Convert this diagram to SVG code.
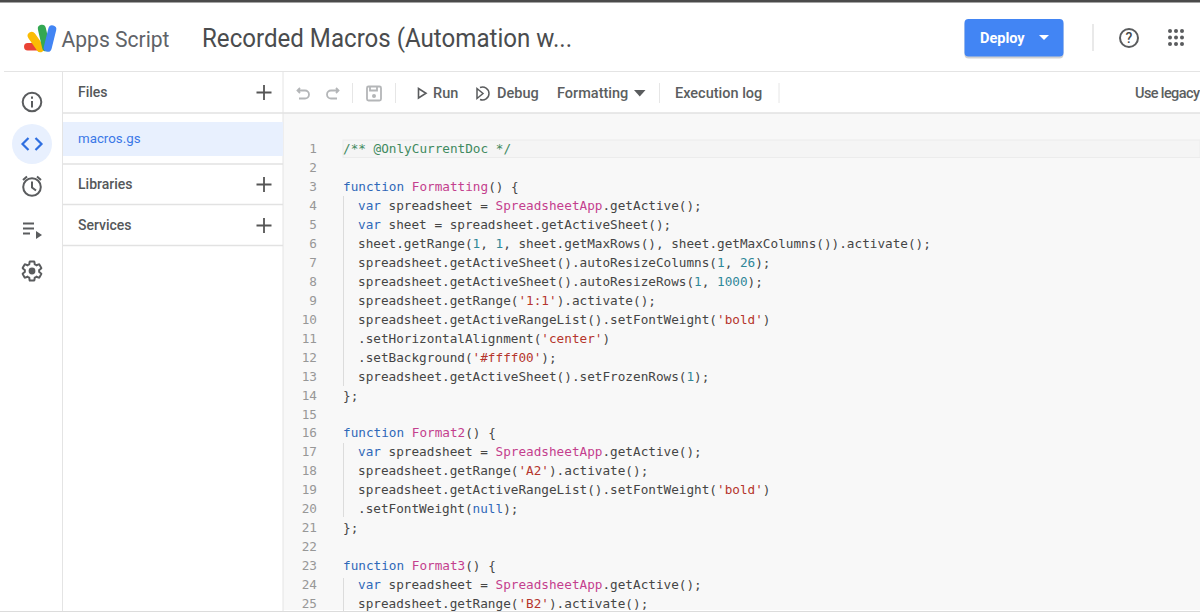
<svg xmlns="http://www.w3.org/2000/svg" width="1200" height="615" viewBox="0 0 1200 615">
<style>
.ui{font-family:Roboto,"Liberation Sans",sans-serif;fill:#444746}
.side{font-size:14px;font-weight:500;fill:#55585a}
.tb{font-size:14.5px;font-weight:500;fill:#5b5e60}
.c{font-family:"DejaVu Sans Mono","Liberation Mono",monospace;font-size:12.7px;fill:#454545;white-space:pre}
.n{font-family:"DejaVu Sans Mono","Liberation Mono",monospace;font-size:12.7px;fill:#979797;text-anchor:end}
.k{fill:#2f68b8}.f{fill:#c43f8e}.s{fill:#b5352c}.d{fill:#2f8799}.m{fill:#3f8a60}
.ic{fill:none;stroke:#5a5c5e;stroke-width:2}
.sep{stroke:#e2e2e2;stroke-width:1.5}
.plus{stroke:#555;stroke-width:1.8}
</style>
<rect width="1200" height="615" fill="#fff"/>
<rect width="1200" height="2.5" fill="#4a4a4a"/>
<g id="logo">
<rect x="24" y="43" width="23" height="7.500" rx="3.700" fill="#ea4335"/>
<rect x="32" y="30.500" width="8" height="23" rx="4" fill="#fbbc04" transform="rotate(-35 36 42)"/>
<rect x="40" y="24.500" width="8" height="27" rx="4" fill="#34a853" transform="rotate(-13 44 38)"/>
<rect x="46" y="25" width="8" height="27" rx="4" fill="#4285f4" transform="rotate(14 50 38.500)"/>
<text x="61.500" y="47" class="ui" font-size="22.500" textLength="108" lengthAdjust="spacingAndGlyphs" style="fill:#5f6368">Apps Script</text>
</g>
<text id="title" x="202" y="46.500" class="ui" font-size="25" textLength="370" lengthAdjust="spacingAndGlyphs" style="fill:#4a4c4e">Recorded Macros (Automation w...</text>
<g id="deploy">
<rect x="964.500" y="19" width="99" height="38" rx="4" fill="#000" opacity=".18" transform="translate(0 1.500)"/>
<rect x="964.500" y="19" width="99" height="37.500" rx="4" fill="#4285f4"/>
<text x="980" y="43" class="ui" font-size="14.500" font-weight="700" style="fill:#fff">Deploy</text>
<path d="M1039 35h10l-5 5z" fill="#fff"/>
</g>
<line x1="1093" y1="24" x2="1093" y2="51" class="sep"/>
<g id="help">
<circle cx="1129" cy="38" r="9" class="ic"/>
<text x="1129" y="43" class="ui" font-size="14" font-weight="500" text-anchor="middle">?</text>
</g>
<g id="apps" fill="#5a5c5e">
<circle cx="1170" cy="31" r="2"/><circle cx="1176" cy="31" r="2"/><circle cx="1182" cy="31" r="2"/>
<circle cx="1170" cy="37.500" r="2"/><circle cx="1176" cy="37.500" r="2"/><circle cx="1182" cy="37.500" r="2"/>
<circle cx="1170" cy="44" r="2"/><circle cx="1176" cy="44" r="2"/><circle cx="1182" cy="44" r="2"/>
</g>
<line x1="4" y1="71.500" x2="1200" y2="71.500" stroke="#e4e4e4"/>
<rect x="283" y="113" width="917" height="497" fill="#f8f8f8"/>
<line x1="62.500" y1="72" x2="62.500" y2="611" stroke="#e4e4e4"/>
<line x1="283" y1="72" x2="283" y2="611" stroke="#e4e4e4"/>
<g id="rail">
<circle cx="32" cy="144" r="20" fill="#e8f0fe"/>
<g id="info"><circle cx="32" cy="102" r="9.300" class="ic"/><path d="M32 101v6.500M32 96.500v2.200" class="ic"/></g>
<path id="code" d="M28.500 138l-6 6 6 6M35.500 138l6 6-6 6" fill="none" stroke="#2f6fe0" stroke-width="2.200"/>
<g id="clock"><circle cx="32" cy="187" r="8.800" class="ic"/><path d="M32 181.500v6l4 3M23 180l4-3.500M41 180l-4-3.500" class="ic"/></g>
<path id="exec" d="M23 223.500h11M23 228.500h11M23 233.500h7" class="ic"/>
<path d="M36 231v8l6-4z" fill="#5a5c5e"/>
<g id="gear" transform="translate(20 259)"><path class="ic" d="M19.140 12.940c.04-.3.06-.61.06-.94 0-.32-.02-.64-.07-.94l2.030-1.580c.18-.14.23-.41.12-.61l-1.920-3.320c-.12-.22-.37-.29-.59-.22l-2.390.96c-.5-.38-1.030-.7-1.620-.94l-.36-2.540c-.04-.24-.24-.41-.48-.41h-3.840c-.24 0-.43.17-.47.41l-.36 2.540c-.59.24-1.130.57-1.620.94l-2.390-.96c-.22-.08-.47 0-.59.22L2.740 8.870c-.12.21-.08.47.12.61l2.030 1.580c-.05.3-.09.63-.09.94s.02.64.07.94l-2.030 1.580c-.18.14-.23.41-.12.61l1.920 3.320c.12.22.37.29.59.22l2.390-.96c.5.38 1.030.7 1.620.94l.36 2.540c.05.24.24.41.48.41h3.840c.24 0 .44-.17.47-.41l.36-2.540c.59-.24 1.130-.56 1.620-.94l2.390.96c.22.08.47 0 .59-.22l1.920-3.320c.12-.22.07-.47-.12-.61l-2.010-1.580z"/><circle cx="12" cy="12" r="3.400" fill="#5a5c5e"/></g>
</g>
<g id="files">
<text x="78" y="97" class="ui side">Files</text>
<path d="M256.500 92.500h15M264 85v15" class="plus"/>
<line x1="63" y1="113" x2="283" y2="113" class="sep"/>
</g>
<g id="macros">
<rect x="63" y="122" width="220" height="34" fill="#e8f0fe"/>
<text x="78" y="143" class="ui" font-size="13.300" style="fill:#3b78e7">macros.gs</text>
</g>
<g id="libraries">
<line x1="63" y1="164" x2="283" y2="164" class="sep"/>
<text x="78" y="188.500" class="ui side">Libraries</text>
<path d="M256.500 184.500h15M264 177v15" class="plus"/>
<line x1="63" y1="204.500" x2="283" y2="204.500" class="sep"/>
</g>
<g id="services">
<text x="78" y="230" class="ui side">Services</text>
<path d="M256.500 225.500h15M264 218v15" class="plus"/>
<line x1="63" y1="245.500" x2="283" y2="245.500" class="sep"/>
</g>
<g id="toolbar">
<g fill="none" stroke="#b4b6b8" stroke-width="1.800">
<path d="M300 88l-2.500 2.500 2.500 2.500M298 90.500h7a4 4 0 0 1 0 8h-6"/>
<path d="M336 88l2.500 2.500-2.500 2.500M338 90.500h-7a4 4 0 0 0 0 8h6"/>
<rect x="367" y="86.500" width="14" height="14" rx="1.500"/><path d="M370 87v3.500h7V87"/>
</g>
<circle cx="374" cy="96" r="2" fill="#b4b6b8"/>
<line x1="352.500" y1="83" x2="352.500" y2="103" stroke="#e6e6e6"/>
<line x1="395.500" y1="83" x2="395.500" y2="103" stroke="#e6e6e6"/>
<path d="M418.500 88.500v9.500l7.500-4.750z" fill="none" stroke="#5a5c5e" stroke-width="1.600"/>
<text x="433" y="98" class="ui tb">Run</text>
<g fill="none" stroke="#5a5c5e" stroke-width="1.500"><path d="M477 88.500v10l6-5zM480 87.500a6.500 6.500 0 1 1 0 12"/></g>
<text x="497" y="98" class="ui tb">Debug</text>
<text x="557" y="98" class="ui tb">Formatting</text>
<path d="M634 90h11.500l-5.750 6.500z" fill="#5a5c5e"/>
<line x1="659.500" y1="83" x2="659.500" y2="103" stroke="#e6e6e6"/>
<text x="675" y="98" class="ui tb">Execution log</text>
<line x1="779" y1="83" x2="779" y2="103" stroke="#e6e6e6"/>
<text x="1135" y="98" class="ui tb" textLength="65" lengthAdjust="spacing">Use legacy</text>
<line x1="283" y1="113" x2="1200" y2="113" class="sep"/>
</g>
<g id="editor">
<rect x="343" y="140" width="857" height="17.500" fill="#f5f5f5" stroke="#ececec"/>
<path d="M343.500 196v190M343.500 443v74M343.500 578v33" stroke="#dcdcdc" fill="none"/>
<text class="c m" style="fill:#3f8a60" x="343" y="152.500">/** @OnlyCurrentDoc */</text>
<text class="c" x="343" y="190.500"><tspan class="k">function</tspan> <tspan class="f">Formatting</tspan>() {</text>
<text class="c" x="358" y="209.500"><tspan class="k">var</tspan> spreadsheet = <tspan class="f">SpreadsheetApp</tspan>.getActive();</text>
<text class="c" x="358" y="228.500"><tspan class="k">var</tspan> sheet = spreadsheet.getActiveSheet();</text>
<text class="c" x="358" y="247.500">sheet.getRange(<tspan class="d">1</tspan>, <tspan class="d">1</tspan>, sheet.getMaxRows(), sheet.getMaxColumns()).activate();</text>
<text class="c" x="358" y="266.500">spreadsheet.getActiveSheet().autoResizeColumns(<tspan class="d">1</tspan>, <tspan class="d">26</tspan>);</text>
<text class="c" x="358" y="285.500">spreadsheet.getActiveSheet().autoResizeRows(<tspan class="d">1</tspan>, <tspan class="d">1000</tspan>);</text>
<text class="c" x="358" y="304.500">spreadsheet.getRange(<tspan class="s">'1:1'</tspan>).activate();</text>
<text class="c" x="358" y="323.500">spreadsheet.getActiveRangeList().setFontWeight(<tspan class="s">'bold'</tspan>)</text>
<text class="c" x="358" y="342.500">.setHorizontalAlignment(<tspan class="s">'center'</tspan>)</text>
<text class="c" x="358" y="361.500">.setBackground(<tspan class="s">'#ffff00'</tspan>);</text>
<text class="c" x="358" y="380.500">spreadsheet.getActiveSheet().setFrozenRows(<tspan class="d">1</tspan>);</text>
<text class="c" x="343" y="399.500">};</text>
<text class="c" x="343" y="437"><tspan class="k">function</tspan> <tspan class="f">Format2</tspan>() {</text>
<text class="c" x="358" y="456"><tspan class="k">var</tspan> spreadsheet = <tspan class="f">SpreadsheetApp</tspan>.getActive();</text>
<text class="c" x="358" y="475">spreadsheet.getRange(<tspan class="s">'A2'</tspan>).activate();</text>
<text class="c" x="358" y="494">spreadsheet.getActiveRangeList().setFontWeight(<tspan class="s">'bold'</tspan>)</text>
<text class="c" x="358" y="513">.setFontWeight(<tspan class="k">null</tspan>);</text>
<text class="c" x="343" y="532">};</text>
<text class="c" x="343" y="570"><tspan class="k">function</tspan> <tspan class="f">Format3</tspan>() {</text>
<text class="c" x="358" y="589"><tspan class="k">var</tspan> spreadsheet = <tspan class="f">SpreadsheetApp</tspan>.getActive();</text>
<text class="c" x="358" y="608">spreadsheet.getRange(<tspan class="s">'B2'</tspan>).activate();</text>
<text class="n" x="317" y="152.500">1</text><text class="n" x="317" y="171.500">2</text><text class="n" x="317" y="190.500">3</text><text class="n" x="317" y="209.500">4</text><text class="n" x="317" y="228.500">5</text><text class="n" x="317" y="247.500">6</text><text class="n" x="317" y="266.500">7</text><text class="n" x="317" y="285.500">8</text><text class="n" x="317" y="304.500">9</text><text class="n" x="317" y="323.500">10</text><text class="n" x="317" y="342.500">11</text><text class="n" x="317" y="361.500">12</text><text class="n" x="317" y="380.500">13</text><text class="n" x="317" y="399.500">14</text><text class="n" x="317" y="418.500">15</text><text class="n" x="317" y="437">16</text><text class="n" x="317" y="456">17</text><text class="n" x="317" y="475">18</text><text class="n" x="317" y="494">19</text><text class="n" x="317" y="513">20</text><text class="n" x="317" y="532">21</text><text class="n" x="317" y="551">22</text><text class="n" x="317" y="570">23</text><text class="n" x="317" y="589">24</text><text class="n" x="317" y="608">25</text>
</g>
<line x1="0" y1="611.500" x2="1200" y2="611.500" stroke="#dcdcdc"/>
</svg>
